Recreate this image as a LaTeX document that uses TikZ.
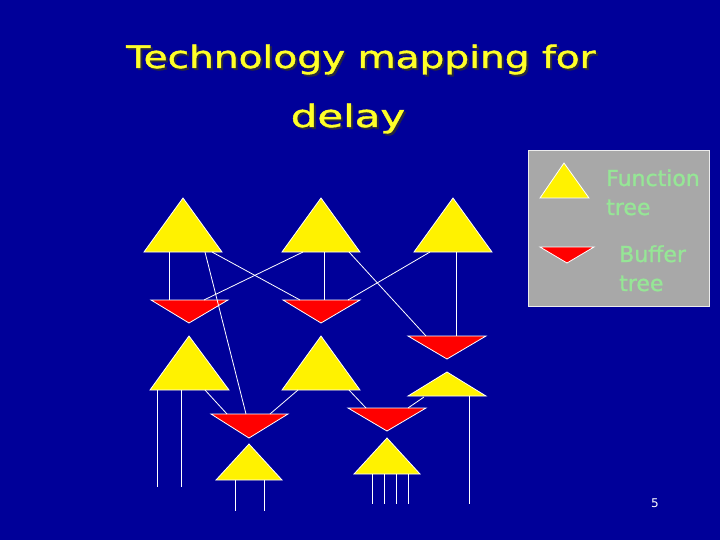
\documentclass[tikz,border=0pt]{standalone}
\usepackage{fontspec}
\setmainfont{DejaVu Sans}
\newfontfamily\heavy[FakeBold=1.2]{DejaVu Sans}
\usepackage{graphicx}
\definecolor{bg}{RGB}{0,0,153}
\definecolor{ttl}{RGB}{255,255,40}
\definecolor{shd}{RGB}{40,40,60}
\definecolor{leg}{RGB}{168,168,168}
\definecolor{legtxt}{RGB}{150,230,150}
\newcommand\shadowed[2]{\makebox[0pt][l]{\hspace*{2pt}\raisebox{-2pt}{\textcolor{shd}{\scalebox{#1}[1]{#2}}}}\textcolor{ttl}{\scalebox{#1}[1]{#2}}}
\begin{document}
\begin{tikzpicture}[x=1pt,y=-1pt,
  fun/.style={fill=yellow,draw=white,line width=0.8pt},
  buf/.style={fill=red,draw=white,line width=0.8pt},
  wire/.style={draw=white,line width=0.8pt},
  ttltext/.style={font=\heavy\fontsize{31}{36}\selectfont,anchor=base,inner sep=0pt},
  legtext/.style={font=\heavy\fontsize{22}{26}\selectfont,text=legtxt,anchor=base west,inner sep=0pt}]
\fill[bg] (0,0) rectangle (720,540);
\useasboundingbox (0,0) rectangle (720,540);

% title with shadow
\node[ttltext] (title1) at (361,68) {\shadowed{1.26}{Technology mapping for}};
\node[ttltext] (title2) at (348,127) {\shadowed{1.35}{delay}};

% legend
\filldraw[fill=leg,draw=white!85!gray,line width=0.6pt] (528,150) rectangle (709,306);
\filldraw[fun] (564,163) -- (540,198) -- (589,198) -- cycle;
\filldraw[buf] (540,247) -- (594,247) -- (567,263) -- cycle;
\node[legtext] (lf1) at (606,186) {Function};
\node[legtext] (lf2) at (606,215) {tree};
\node[legtext] (lb1) at (619,262) {Buffer};
\node[legtext] (lb2) at (619,291) {tree};

% function trees
\filldraw[fun] (183,198) -- (144,252) -- (222,252) -- cycle;
\filldraw[fun] (321,198) -- (282,252) -- (360,252) -- cycle;
\filldraw[fun] (453,198) -- (414,252) -- (492,252) -- cycle;
\filldraw[fun] (189,336) -- (150,390) -- (229,390) -- cycle;
\filldraw[fun] (321,336) -- (282,390) -- (360,390) -- cycle;
\filldraw[fun] (447,372) -- (408,396) -- (486,396) -- cycle;
\filldraw[fun] (249,444) -- (216,480) -- (282,480) -- cycle;
\filldraw[fun] (387,438) -- (354,474) -- (420,474) -- cycle;

% buffer trees
\filldraw[buf] (151,300) -- (228,300) -- (189,323) -- cycle;
\filldraw[buf] (283,300) -- (360,300) -- (321,323) -- cycle;
\filldraw[buf] (408,336) -- (486,336) -- (447,359) -- cycle;
\filldraw[buf] (211,414) -- (288,414) -- (249,438) -- cycle;
\filldraw[buf] (348,408) -- (426,408) -- (387,431) -- cycle;

% connection points
\coordinate (t1a) at (169,252); \coordinate (b1a) at (169,300);
\coordinate (t1b) at (205,252); \coordinate (b4a) at (246,414);
\coordinate (t1c) at (212,252); \coordinate (b2a) at (300,300);
\coordinate (t2a) at (303,252); \coordinate (b1b) at (204,300);
\coordinate (t2b) at (324,252); \coordinate (b2b) at (324,300);
\coordinate (t2c) at (349,252); \coordinate (b3a) at (426,336);
\coordinate (t3a) at (430,252); \coordinate (b2c) at (348,300);
\coordinate (t3b) at (456,252); \coordinate (b3b) at (456,336);
\coordinate (m1a) at (205,390); \coordinate (b4b) at (227,414);
\coordinate (m2a) at (298,390); \coordinate (b4c) at (270,414);
\coordinate (m2b) at (349,390); \coordinate (b5a) at (366,408);
\coordinate (m3a) at (424,397); \coordinate (b5b) at (408,408);

\draw[wire] (t1a) -- (b1a);
\draw[wire] (t1b) -- (b4a);
\draw[wire] (t1c) -- (b2a);
\draw[wire] (t2a) -- (b1b);
\draw[wire] (t2b) -- (b2b);
\draw[wire] (t2c) -- (b3a);
\draw[wire] (t3a) -- (b2c);
\draw[wire] (t3b) -- (b3b);
\draw[wire] (m1a) -- (b4b);
\draw[wire] (m2a) -- (b4c);
\draw[wire] (m2b) -- (b5a);
\draw[wire] (m3a) -- (b5b);

% leads
\foreach \x in {157,181} \draw[wire] (\x,390) -- (\x,487);
\draw[wire] (469,396) -- (469,504);
\foreach \x in {235,264} \draw[wire] (\x,480) -- (\x,511);
\foreach \x in {372,384,396,408} \draw[wire] (\x,474) -- (\x,504);

% page number
\node[font=\fontsize{12}{14}\selectfont,text=white,inner sep=0pt] (pg) at (655,503) {5};
\end{tikzpicture}
\end{document}
